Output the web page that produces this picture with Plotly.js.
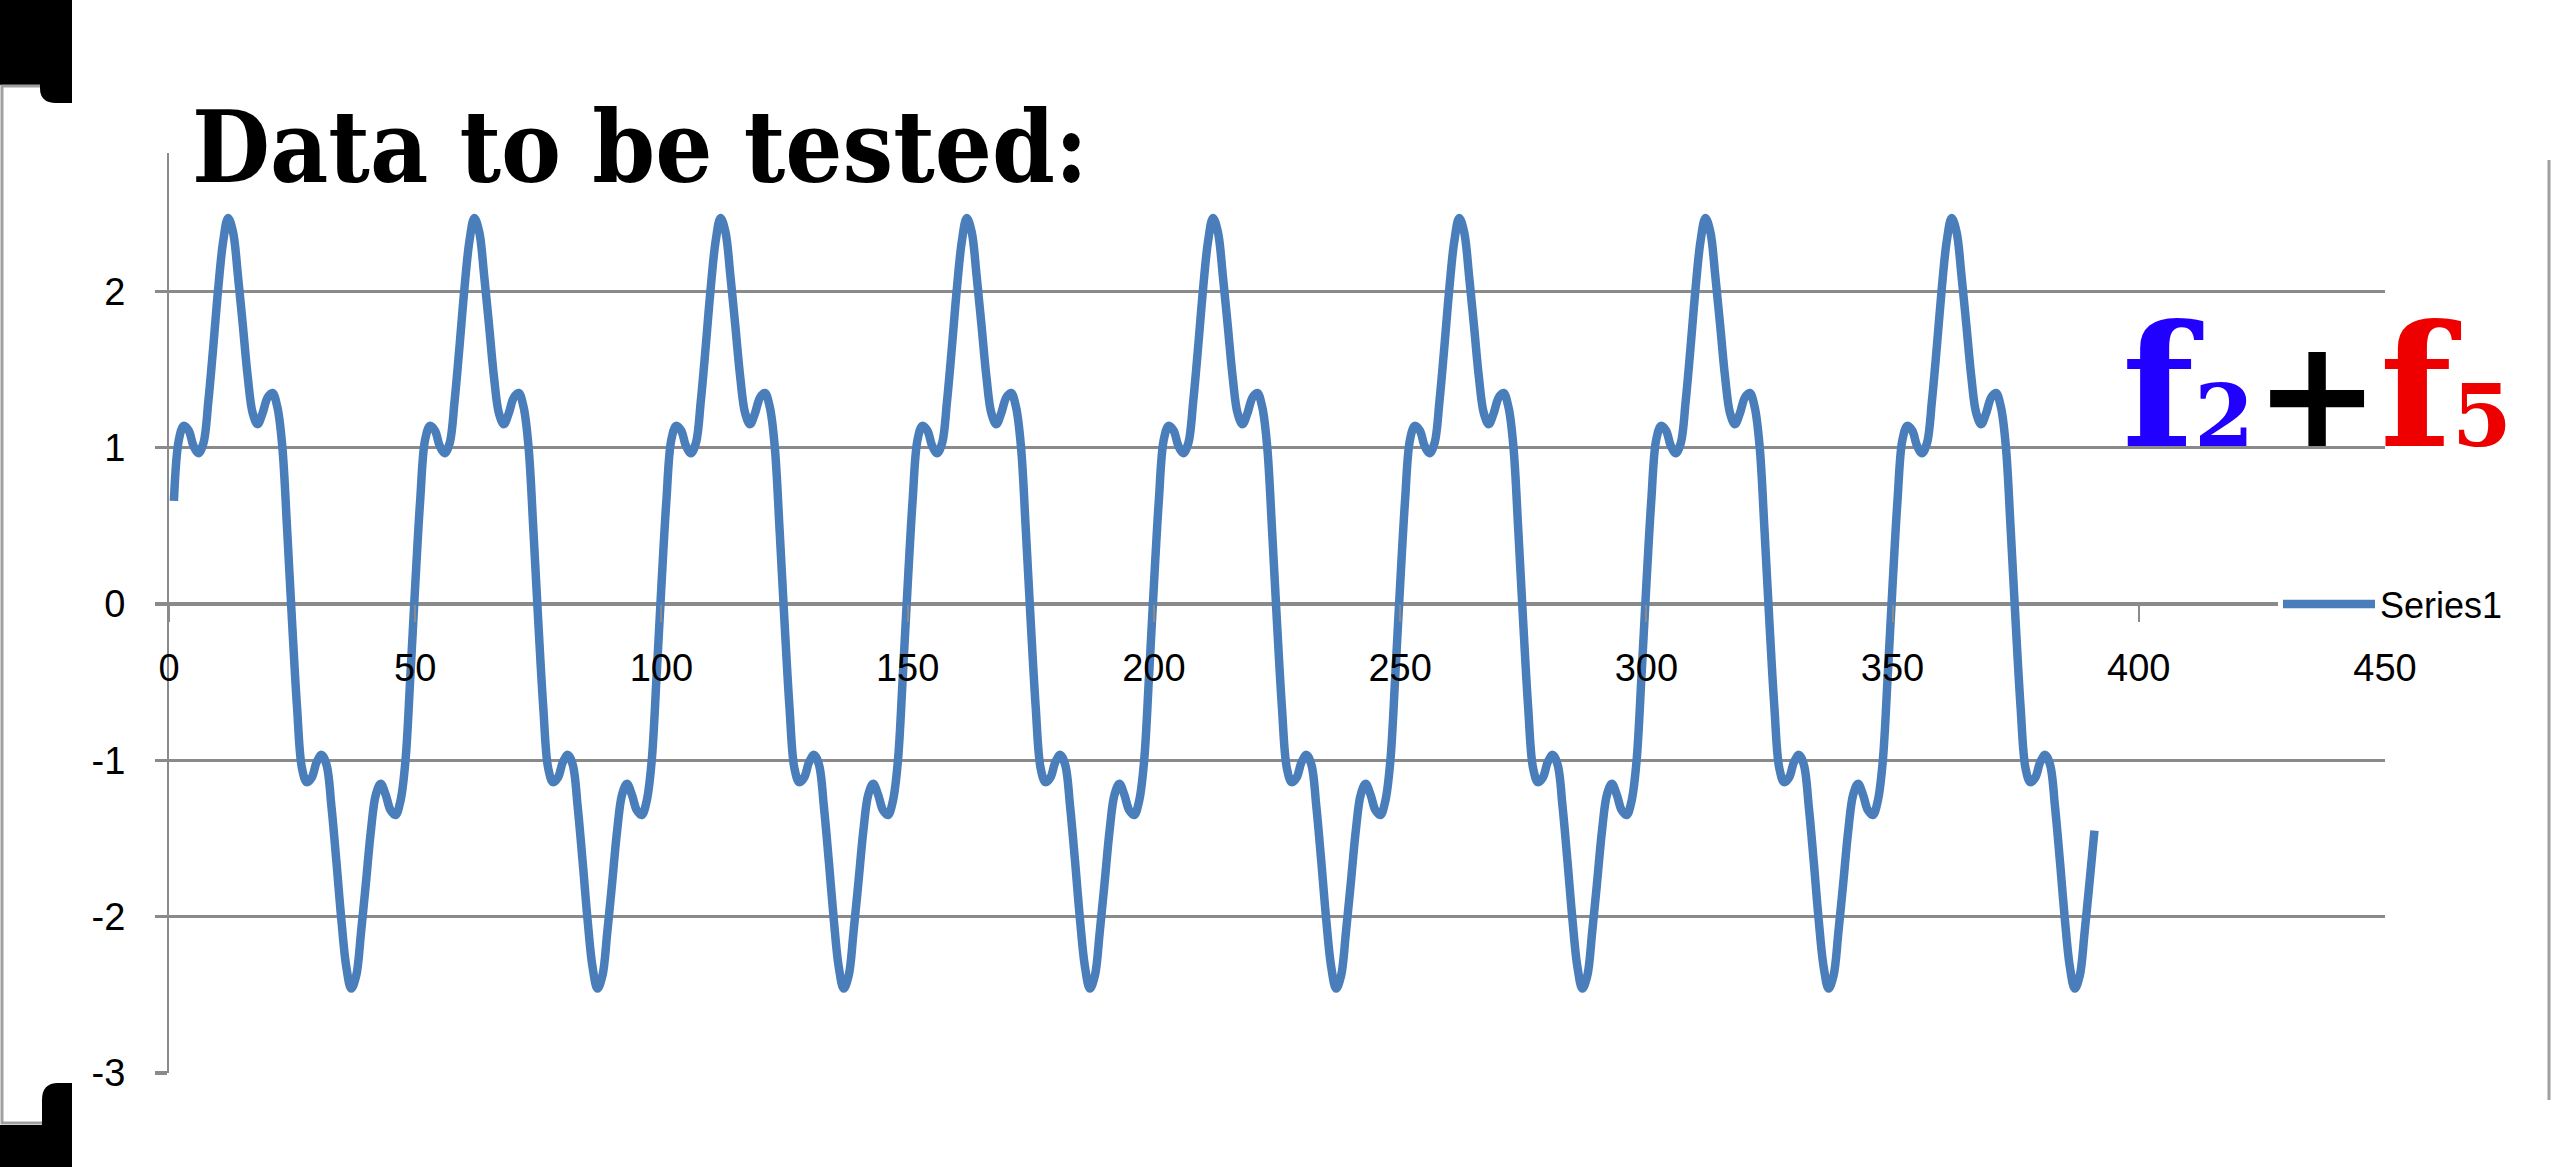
<!DOCTYPE html>
<html>
<head>
<meta charset="utf-8">
<script src="https://cdn.plot.ly/plotly-3.0.1.min.js"></script>
<style>html,body{margin:0;padding:0;background:#fff;}#chart{width:2552px;height:1167px;}</style>
</head>
<body>
<div id="chart"></div>
<script>
// ---- data (sample index 1..391) ----
const seriesName = 'Series1';
const seriesValues = [
 0.66,1.05,1.14,1.11,1.01,0.965,1.03,1.30,1.65,2.02,2.32,2.47,2.38,2.10,1.78,1.45,1.22,1.15,1.22,1.32,1.35,1.26,1.01,0.47,-0.12,-0.66,-1.05,-1.14,-1.11,-1.01,-0.965,-1.03,-1.30,-1.65,-2.02,-2.32,-2.46,-2.38,-2.10,-1.78,-1.45,-1.22,-1.15,-1.22,-1.32,-1.35,-1.26,-1.01,-0.47,0.12,
 0.66,1.05,1.14,1.11,1.01,0.965,1.03,1.30,1.65,2.02,2.32,2.47,2.38,2.10,1.78,1.45,1.22,1.15,1.22,1.32,1.35,1.26,1.01,0.47,-0.12,-0.66,-1.05,-1.14,-1.11,-1.01,-0.965,-1.03,-1.30,-1.65,-2.02,-2.32,-2.46,-2.38,-2.10,-1.78,-1.45,-1.22,-1.15,-1.22,-1.32,-1.35,-1.26,-1.01,-0.47,0.12,
 0.66,1.05,1.14,1.11,1.01,0.965,1.03,1.30,1.65,2.02,2.32,2.47,2.38,2.10,1.78,1.45,1.22,1.15,1.22,1.32,1.35,1.26,1.01,0.47,-0.12,-0.66,-1.05,-1.14,-1.11,-1.01,-0.965,-1.03,-1.30,-1.65,-2.02,-2.32,-2.46,-2.38,-2.10,-1.78,-1.45,-1.22,-1.15,-1.22,-1.32,-1.35,-1.26,-1.01,-0.47,0.12,
 0.66,1.05,1.14,1.11,1.01,0.965,1.03,1.30,1.65,2.02,2.32,2.47,2.38,2.10,1.78,1.45,1.22,1.15,1.22,1.32,1.35,1.26,1.01,0.47,-0.12,-0.66,-1.05,-1.14,-1.11,-1.01,-0.965,-1.03,-1.30,-1.65,-2.02,-2.32,-2.46,-2.38,-2.10,-1.78,-1.45,-1.22,-1.15,-1.22,-1.32,-1.35,-1.26,-1.01,-0.47,0.12,
 0.66,1.05,1.14,1.11,1.01,0.965,1.03,1.30,1.65,2.02,2.32,2.47,2.38,2.10,1.78,1.45,1.22,1.15,1.22,1.32,1.35,1.26,1.01,0.47,-0.12,-0.66,-1.05,-1.14,-1.11,-1.01,-0.965,-1.03,-1.30,-1.65,-2.02,-2.32,-2.46,-2.38,-2.10,-1.78,-1.45,-1.22,-1.15,-1.22,-1.32,-1.35,-1.26,-1.01,-0.47,0.12,
 0.66,1.05,1.14,1.11,1.01,0.965,1.03,1.30,1.65,2.02,2.32,2.47,2.38,2.10,1.78,1.45,1.22,1.15,1.22,1.32,1.35,1.26,1.01,0.47,-0.12,-0.66,-1.05,-1.14,-1.11,-1.01,-0.965,-1.03,-1.30,-1.65,-2.02,-2.32,-2.46,-2.38,-2.10,-1.78,-1.45,-1.22,-1.15,-1.22,-1.32,-1.35,-1.26,-1.01,-0.47,0.12,
 0.66,1.05,1.14,1.11,1.01,0.965,1.03,1.30,1.65,2.02,2.32,2.47,2.38,2.10,1.78,1.45,1.22,1.15,1.22,1.32,1.35,1.26,1.01,0.47,-0.12,-0.66,-1.05,-1.14,-1.11,-1.01,-0.965,-1.03,-1.30,-1.65,-2.02,-2.32,-2.46,-2.38,-2.10,-1.78,-1.45,-1.22,-1.15,-1.22,-1.32,-1.35,-1.26,-1.01,-0.47,0.12,
 0.66,1.05,1.14,1.11,1.01,0.965,1.03,1.30,1.65,2.02,2.32,2.47,2.38,2.10,1.78,1.45,1.22,1.15,1.22,1.32,1.35,1.26,1.01,0.47,-0.12,-0.66,-1.05,-1.14,-1.11,-1.01,-0.965,-1.03,-1.30,-1.65,-2.02,-2.32,-2.46,-2.38,-2.10,-1.78,-1.45
];
const sampleIndex = seriesValues.map((v, i) => i + 1);
const xTickVals = [0, 50, 100, 150, 200, 250, 300, 350, 400, 450];
const xTickText = ['0', '50', '100', '150', '200', '250', '300', '350', '400', '450'];
const yTickVals = [-3, -2, -1, 0, 1, 2];
const yTickText = ['-3', '-2', '-1', '0', '1', '2'];
const titleText = 'Data to be tested:';

// ---- layout helpers (pixel -> paper) ----
const W = 2552, H = 1167;
const px = x => x / W;
const py = y => 1 - y / H;
const P = (x, y) => px(x).toFixed(5) + ',' + py(y).toFixed(5);

const tickFont = {family: 'Liberation Sans Narrow, Liberation Sans, Arial, sans-serif', size: 38, color: '#000'};
const gridCol = '#8a8a8a';

const trace = {
  x: sampleIndex, y: seriesValues, type: 'scatter', mode: 'lines', name: seriesName,
  line: {color: '#4a7ebb', width: 8.5, shape: 'spline', smoothing: 1},
  hoverinfo: 'skip'
};

const shapes = [
  // slide frame decorations
  {type: 'path', xref: 'paper', yref: 'paper', fillcolor: '#000', line: {width: 0},
   path: 'M' + P(0,0) + ' L' + P(72,0) + ' L' + P(72,103) + ' L' + P(56,103) + ' Q' + P(40,103) + ' ' + P(40,88) + ' L' + P(40,85) + ' L' + P(0,85) + ' Z'},
  {type: 'path', xref: 'paper', yref: 'paper', fillcolor: '#000', line: {width: 0},
   path: 'M' + P(72,1083) + ' L' + P(58,1083) + ' Q' + P(42,1083) + ' ' + P(42,1100) + ' L' + P(42,1125) + ' L' + P(0,1125) + ' L' + P(0,1167) + ' L' + P(72,1167) + ' Z'},
  {type: 'path', xref: 'paper', yref: 'paper', line: {color: '#a0a0a0', width: 3},
   path: 'M' + P(40,86) + ' L' + P(2,86) + ' L' + P(2,1123) + ' L' + P(42,1123)},
  {type: 'line', xref: 'paper', yref: 'paper', x0: px(2549), x1: px(2549), y0: py(160), y1: py(1100), line: {color: '#a0a0a0', width: 3}}
];

const layout = {
  width: W, height: H,
  margin: {l: 0, r: 0, t: 0, b: 0},
  paper_bgcolor: '#fff', plot_bgcolor: '#fff',
  showlegend: true,
  legend: {x: px(2278), y: py(604), xanchor: 'left', yanchor: 'middle', bgcolor: '#fff',
           font: {family: 'Liberation Sans Narrow, Liberation Sans, Arial, sans-serif', size: 36, color: '#000'},
           itemwidth: 92, borderwidth: 0, tracegroupgap: 0},
  xaxis: {
    domain: [px(169), px(2385)], range: [0, 450],
    anchor: 'free', position: py(604),
    tickmode: 'array', tickvals: xTickVals, ticktext: xTickText,
    showgrid: false, zeroline: false, showline: false,
    ticks: 'outside', ticklen: 17, tickwidth: 2, tickcolor: gridCol,
    ticklabelstandoff: 13,
    tickfont: tickFont
  },
  yaxis: {
    domain: [py(1073), py(153)], range: [-3, 2.885],
    tickmode: 'array', tickvals: yTickVals, ticktext: yTickText,
    showgrid: true, gridcolor: gridCol, gridwidth: 3.5,
    zeroline: false, showline: true, linecolor: '#8a8a8a', linewidth: 2,
    ticks: 'outside', ticklen: 12, tickwidth: 3.5, tickcolor: gridCol,
    ticklabelstandoff: 22,
    tickfont: tickFont
  },
  shapes: shapes,
  annotations: [
    {xref: 'paper', yref: 'paper', x: px(190), y: py(208), xanchor: 'left', yanchor: 'bottom',
     showarrow: false, text: titleText,
     font: {family: 'DejaVu Serif Condensed, DejaVu Serif, serif', size: 100, color: '#000', weight: 'bold'}},
    {xref: 'paper', yref: 'paper', x: px(2120), y: py(488), xanchor: 'left', yanchor: 'bottom',
     showarrow: false,
     text: '<span style="color:#2200ff">f</span><span style="color:#2200ff;font-size:86px">2</span><span style="color:#000;font-family:DejaVu Sans;font-size:150px">+</span><span style="color:#ee0000">f</span><span style="color:#ee0000;font-size:86px">5</span>',
     font: {family: 'DejaVu Serif', size: 168, color: '#000', weight: 'bold'}}
  ]
};

Plotly.newPlot('chart', [trace], layout, {displayModeBar: false, staticPlot: true});
</script>
</body>
</html>
